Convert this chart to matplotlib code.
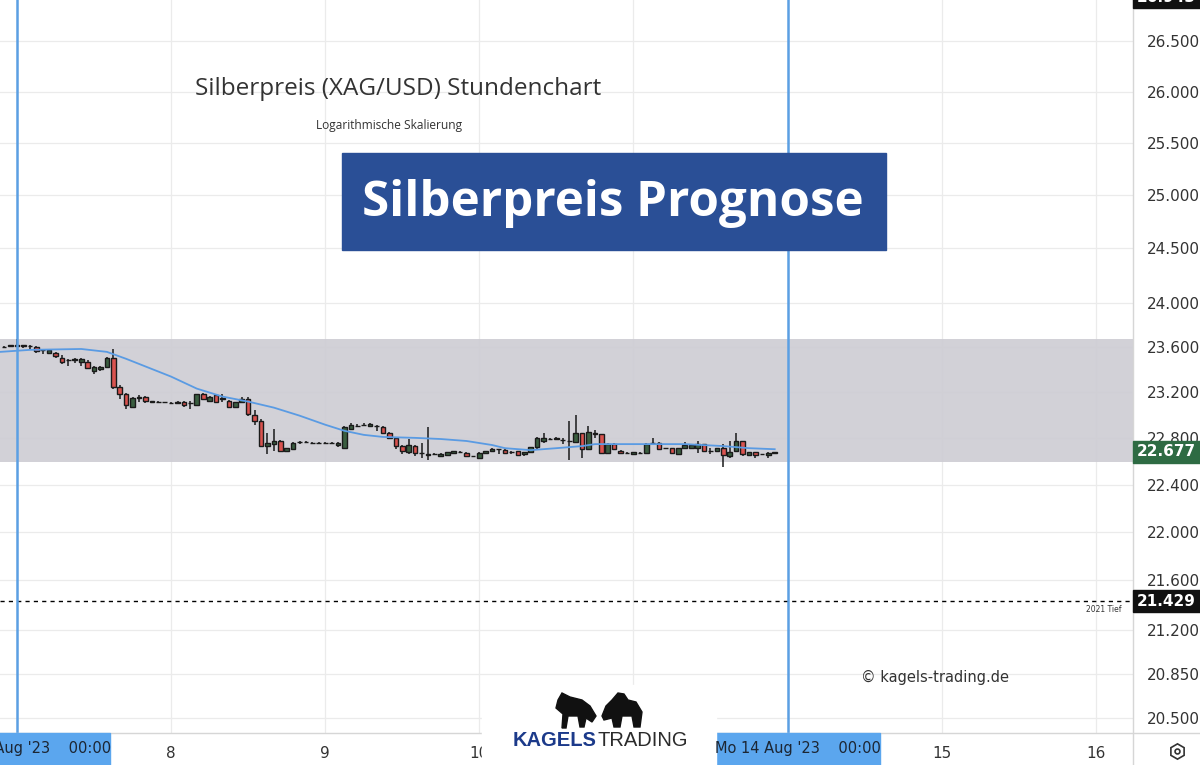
import matplotlib
matplotlib.use("Agg")
import matplotlib.pyplot as plt
import numpy as np
from matplotlib.patches import Rectangle, Polygon
from matplotlib.lines import Line2D
from matplotlib.ticker import FixedLocator, NullLocator, FuncFormatter

# hourly candles, hour 0 = Mo 7 Aug '23 00:00 (weekend compressed)
first_hour = -2
opens = [23.60, 23.61, 23.61, 23.62, 23.61, 23.60, 23.57, 23.55, 23.55, 23.50,
         23.48, 23.485, 23.47, 23.47, 23.39, 23.40, 23.42, 23.50, 23.24, 23.18,
         23.07, 23.15, 23.16, 23.11, 23.11, 23.11, 23.10, 23.10, 23.115, 23.10,
         23.09, 23.18, 23.12, 23.17, 23.14, 23.12, 23.065, 23.11, 23.14, 23.00,
         22.95, 22.73, 22.75, 22.77, 22.685, 22.70, 22.765, 22.76, 22.755, 22.755,
         22.755, 22.755, 22.735, 22.71, 22.88, 22.90, 22.91, 22.90, 22.905, 22.89,
         22.845, 22.80, 22.73, 22.68, 22.73, 22.67, 22.65, 22.66, 22.64, 22.65,
         22.67, 22.675, 22.67, 22.64, 22.63, 22.67, 22.685, 22.70, 22.695, 22.675,
         22.685, 22.665, 22.675, 22.72, 22.77, 22.79, 22.79, 22.785, 22.775, 22.765,
         22.84, 22.70, 22.845, 22.83, 22.67, 22.75, 22.69, 22.67, 22.66, 22.67,
         22.67, 22.755, 22.755, 22.71, 22.71, 22.665, 22.71, 22.71, 22.71, 22.745,
         22.685, 22.685, 22.71, 22.64, 22.685, 22.77, 22.65, 22.675, 22.66, 22.65,
         22.67]
highs = [23.61, 23.62, 23.67, 23.62, 23.62, 23.61, 23.58, 23.58, 23.555, 23.53,
         23.49, 23.50, 23.50, 23.48, 23.43, 23.43, 23.51, 23.58, 23.26, 23.19,
         23.16, 23.17, 23.165, 23.125, 23.12, 23.115, 23.115, 23.12, 23.12, 23.12,
         23.185, 23.19, 23.165, 23.18, 23.18, 23.13, 23.115, 23.16, 23.16, 23.04,
         22.96, 22.84, 22.88, 22.78, 22.715, 22.76, 22.77, 22.77, 22.76, 22.76,
         22.765, 22.765, 22.76, 22.90, 22.925, 22.92, 22.925, 22.93, 22.915, 22.90,
         22.85, 22.805, 22.735, 22.79, 22.735, 22.755, 22.89, 22.67, 22.67, 22.68,
         22.69, 22.685, 22.675, 22.645, 22.675, 22.69, 22.71, 22.705, 22.70, 22.685,
         22.69, 22.68, 22.725, 22.805, 22.84, 22.80, 22.805, 22.795, 22.95, 23.00,
         22.845, 22.90, 22.87, 22.835, 22.755, 22.755, 22.695, 22.675, 22.68, 22.68,
         22.755, 22.80, 22.76, 22.715, 22.715, 22.715, 22.765, 22.745, 22.77, 22.75,
         22.71, 22.715, 22.745, 22.77, 22.84, 22.775, 22.68, 22.68, 22.665, 22.675,
         22.68]
lows = [23.59, 23.61, 23.60, 23.59, 23.58, 23.55, 23.54, 23.54, 23.50, 23.45,
        23.43, 23.46, 23.43, 23.40, 23.355, 23.39, 23.41, 23.23, 23.14, 23.05,
        23.06, 23.11, 23.10, 23.10, 23.10, 23.105, 23.10, 23.095, 23.07, 23.05,
        23.085, 23.13, 23.115, 23.11, 23.11, 23.065, 23.06, 23.105, 22.99, 22.91,
        22.72, 22.66, 22.685, 22.68, 22.68, 22.695, 22.745, 22.755, 22.75, 22.75,
        22.75, 22.75, 22.725, 22.70, 22.875, 22.89, 22.90, 22.895, 22.86, 22.835,
        22.79, 22.70, 22.66, 22.66, 22.64, 22.63, 22.61, 22.65, 22.635, 22.645,
        22.665, 22.67, 22.635, 22.635, 22.625, 22.665, 22.68, 22.665, 22.665, 22.665,
        22.645, 22.64, 22.67, 22.70, 22.755, 22.78, 22.785, 22.75, 22.61, 22.76,
        22.63, 22.695, 22.80, 22.665, 22.665, 22.695, 22.665, 22.665, 22.655, 22.66,
        22.665, 22.745, 22.695, 22.70, 22.665, 22.66, 22.705, 22.70, 22.67, 22.685,
        22.66, 22.68, 22.55, 22.625, 22.68, 22.64, 22.645, 22.625, 22.655, 22.625,
        22.665]
closes = [23.60, 23.62, 23.62, 23.61, 23.61, 23.565, 23.575, 23.575, 23.52, 23.47,
          23.485, 23.49, 23.49, 23.41, 23.42, 23.425, 23.50, 23.24, 23.18, 23.09,
          23.15, 23.155, 23.12, 23.12, 23.11, 23.11, 23.10, 23.115, 23.09, 23.10,
          23.18, 23.135, 23.16, 23.115, 23.145, 23.07, 23.11, 23.14, 23.01, 22.95,
          22.73, 22.755, 22.77, 22.685, 22.71, 22.755, 22.765, 22.765, 22.755, 22.755,
          22.755, 22.755, 22.755, 22.89, 22.91, 22.905, 22.91, 22.92, 22.90, 22.84,
          22.80, 22.73, 22.685, 22.74, 22.67, 22.67, 22.665, 22.66, 22.665, 22.675,
          22.685, 22.675, 22.64, 22.64, 22.67, 22.685, 22.70, 22.70, 22.67, 22.675,
          22.65, 22.675, 22.72, 22.80, 22.795, 22.79, 22.795, 22.785, 22.775, 22.84,
          22.70, 22.85, 22.83, 22.67, 22.75, 22.70, 22.67, 22.67, 22.675, 22.67,
          22.75, 22.755, 22.70, 22.71, 22.67, 22.71, 22.735, 22.735, 22.745, 22.69,
          22.685, 22.71, 22.65, 22.675, 22.77, 22.66, 22.675, 22.65, 22.66, 22.67,
          22.677]

# blue moving average line
ma_hours = [-2.6, 2, 10, 14, 17, 24, 28, 32, 36, 40, 44, 48, 51, 54, 57, 62,
            66, 70, 74, 76, 80, 84, 88, 90, 96, 104, 110, 114, 118]
ma_values = [23.556, 23.574, 23.582, 23.556, 23.494, 23.336, 23.23, 23.16, 23.116,
             23.063, 22.993, 22.914, 22.861, 22.826, 22.808, 22.80, 22.79, 22.773,
             22.738, 22.711, 22.694, 22.711, 22.729, 22.746, 22.746, 22.746, 22.729,
             22.711, 22.702]

zone_low, zone_high = 22.588, 23.675
low_2021 = 21.429
last_price = 22.677
price_ticks = [20.5, 20.85, 21.2, 21.6, 22.0, 22.4, 22.8, 23.2, 23.6, 24.0,
               24.5, 25.0, 25.5, 26.0, 26.5]
day_hours = [0, 24, 48, 72, 96, 120, 144, 168]
day_labels = ["", "8", "9", "10", "", "", "15", "16"]  # 11 sits under the logo

W, H = 1200, 765


def px(x, y):
    return x / W, 1 - y / H


fig = plt.figure(figsize=(12, 7.65), dpi=100)
ax = fig.add_axes([0, 32 / H, 1133 / W, 733 / H])
ax.set_yscale("log")
ax.set_ylim(20.385, 26.92)
ax.set_xlim(-2.65, 173.8)
for s in ax.spines.values():
    s.set_visible(False)

ax.yaxis.set_major_locator(FixedLocator(price_ticks))
ax.yaxis.set_minor_locator(NullLocator())
ax.yaxis.set_major_formatter(FuncFormatter(lambda v, p: f"{v:.3f}"))
ax.yaxis.tick_right()
ax.tick_params(axis="y", length=0, pad=10, labelsize=11, labelcolor="#333333")
ax.set_xticks(day_hours)
ax.set_xticklabels(day_labels)
ax.tick_params(axis="x", length=0, pad=9, labelsize=11, labelcolor="#333333")
ax.grid(True, color="#ebebeb", lw=0.9, zorder=0)
ax.set_axisbelow(True)

ax.axhspan(zone_low, zone_high, color="#cdccd3", alpha=0.9, lw=0, zorder=1)
ax.axhline(low_2021, color="black", lw=1, dashes=(3, 3), zorder=2)
for h in (0, 120):
    ax.axvline(h, color="#5b9fe3", lw=1.8, zorder=5)

hours = np.arange(first_hour, first_hour + len(opens))
o = np.array(opens)
c = np.array(closes)
ax.vlines(hours, lows, highs, color="#1a1a1a", lw=1.1, zorder=3)
body_col = np.where(c > o, "#3a5e40", np.where(c < o, "#d9534f", "#1a1a1a"))
ax.bar(hours, np.abs(c - o), bottom=np.minimum(o, c), width=0.72,
       color=body_col, edgecolor="#1a1a1a", linewidth=1.0, zorder=4)
ax.plot(ma_hours, ma_values, color="#5a9be3", lw=1.3, zorder=4)

# separators of the price / time scales
fig.add_artist(Line2D([1133 / W, 1133 / W], [0, 1], color="#d6d6d6", lw=1))
fig.add_artist(Line2D([0, 1], [1 - 733 / H, 1 - 733 / H], color="#d6d6d6", lw=1))

# titles
fig.text(*px(398, 89), "Silberpreis (XAG/USD) Stundenchart", ha="center", va="center",
         fontsize=17.5, color="#333333", family="Open Sans")
fig.text(*px(389, 126), "Logarithmische Skalierung", ha="center", va="center",
         fontsize=8.6, color="#333333", family="Open Sans")
fig.add_artist(Rectangle(px(342, 250), 544 / W, 97 / H, color="#2a4f96", zorder=3))
fig.text(*px(613, 203), "Silberpreis Prognose", ha="center", va="center",
         fontsize=35.5, color="white", fontweight="bold", family="Open Sans", zorder=4)
fig.text(*px(935, 677), "© kagels-trading.de", ha="center", va="center",
         fontsize=10.5, color="#333333")
fig.text(*px(1104, 609), "2021 Tief", ha="center", va="center", fontsize=5.5,
         color="#333333")

# price labels on the right scale
for yc, txt, col in [(452, f"{last_price:.3f}", "#2e6b43"),
                     (601, f"{low_2021:.3f}", "#111111"),
                     (-3, "26.943", "#111111")]:
    fig.add_artist(Rectangle(px(1133, yc + 11), 67 / W, 22 / H, color=col, zorder=3))
    fig.text(*px(1166, yc), txt, ha="center", va="center", fontsize=11,
             color="white", fontweight="bold", zorder=4)

# date boxes on the time scale
for xc, txt in [(28, "Mo 07 Aug '23    00:00"), (798, "Mo 14 Aug '23    00:00")]:
    fig.add_artist(Rectangle(px(xc - 82, 765), 164 / W, 32 / H, color="#5ba6ee", zorder=3))
    fig.text(*px(xc, 749), txt, ha="center", va="center", fontsize=10.5,
             color="#1c2633", zorder=4)

# settings icon
fig.add_artist(Line2D([1177 / W], [1 - 751 / H], marker="h", ms=11, mfc="none",
                      mec="#333333", mew=1.2))
fig.add_artist(Line2D([1177 / W], [1 - 751 / H], marker="o", ms=3.5, mfc="none",
                      mec="#333333", mew=1.2))

# logo
fig.add_artist(Rectangle(px(482, 765), 234 / W, 80 / H, color="white", zorder=3))
bull = [(558, 700), (562, 693), (570, 697), (582, 700), (590, 706), (596, 716),
        (592, 722), (586, 718), (584, 727), (580, 727), (578, 716), (568, 716),
        (566, 728), (562, 728), (563, 714), (556, 708)]
bear = [(602, 716), (606, 706), (612, 700), (618, 693), (624, 694), (628, 700),
        (636, 702), (642, 712), (640, 727), (634, 727), (632, 716), (622, 716),
        (620, 727), (614, 727), (612, 718), (604, 720)]
for shape in (bull, bear):
    fig.add_artist(Polygon([px(x, y) for x, y in shape], closed=True,
                           color="#111111", zorder=4))
fig.text(*px(597, 741), "KAGELS", ha="right", va="center", fontsize=14.5,
         color="#1c3a8a", fontweight="bold", family="Liberation Sans", zorder=4)
fig.text(*px(597, 741), "TRADING", ha="left", va="center", fontsize=14.5,
         color="#2b2b2b", family="Liberation Sans", zorder=4)

fig.savefig("out.png", dpi=100)
